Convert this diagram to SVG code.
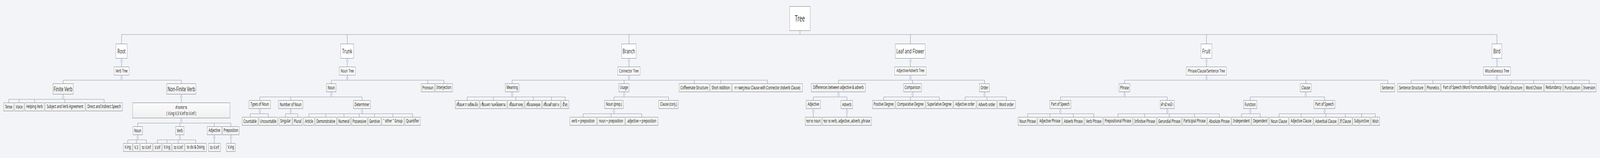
<svg xmlns="http://www.w3.org/2000/svg" width="7231" height="405" viewBox="0 0 7231 405" preserveAspectRatio="none" style="display:block;width:100vw;height:100vh">
<style>
rect{stroke:#808080;stroke-width:1}
.w{fill:#fff}.g{fill:url(#grad)}
text{font-family:"Noto Sans","Liberation Sans",sans-serif;fill:#1a1a1a;text-anchor:middle;font-size:12.3px}
.t1{font-size:22px;fill:#333}.t2{font-size:17px;fill:#333}
#connectors path{fill:none;stroke:#808080;stroke-width:1}
#toggles line{stroke:#6f93c4;stroke-width:1}
</style>
<defs>
<linearGradient id="grad" x1="0" y1="0" x2="0" y2="1"><stop offset="0" stop-color="#fbfbfb"/><stop offset="1" stop-color="#f0f0f0"/></linearGradient>
<g id="tg"><circle r="4.3" fill="#d3e2f6" stroke="#b3cbea" stroke-width="1"/><line x1="-2" x2="2" y1="0" y2="0"/></g>
</defs>
<rect x="0" y="0" width="7231" height="405" style="fill:#f2f4f8;stroke:none"/>
<g id="connectors">
<path d="M549.5 112.5V88.5H6765.5V112.5M1569.5 88.5V112.5M2842.5 88.5V112.5M4114.5 88.5V112.5M5452.5 88.5V112.5M3615.5 78.5V88.5"/>
<path d="M549.5 149.5V171.5M1569.5 149.5V171.5M2842.5 149.5V171.5M4114.5 149.5V171.5M5452.5 149.5V171.5M6765.5 149.5V171.5"/>
<path d="M549.5 192.5V205.5M285.5 214.5V205.5H819.5V214.5"/>
<path d="M285.5 241.5V254.5M39.5 263.5V254.5H470.5V263.5M86.5 254.5V263.5M156.5 254.5V263.5M293.5 254.5V263.5"/>
<path d="M819.5 241.5V263.5M819.5 302.5V315.5M622.5 324.5V315.5H1043.5V324.5M812.5 315.5V324.5M968.5 315.5V324.5"/>
<path d="M622.5 345.5V358.5M577.5 367.5V358.5H661.5V367.5M616.5 358.5V367.5"/>
<path d="M812.5 345.5V358.5M711.5 367.5V358.5H884.5V367.5M754.5 358.5V367.5M805.5 358.5V367.5"/>
<path d="M968.5 345.5V367.5M1043.5 345.5V367.5"/>
<path d="M1569.5 192.5V205.5M1497.5 214.5V205.5H2006.5V214.5M1933.5 205.5V214.5"/>
<path d="M1497.5 235.5V248.5M1174.5 257.5V248.5H1636.5V257.5M1313.5 248.5V257.5"/>
<path d="M1174.5 278.5V291.5M1130.5 300.5V291.5H1212.5V300.5"/>
<path d="M1313.5 278.5V291.5M1290.5 300.5V291.5H1345.5V300.5"/>
<path d="M1636.5 278.5V291.5M1396.5 300.5V291.5H1864.5V300.5M1472.5 291.5V300.5M1554.5 291.5V300.5M1623.5 291.5V300.5M1692.5 291.5V300.5M1775.5 291.5V300.5"/>
<path d="M2842.5 192.5V205.5M2314.5 214.5V205.5H3468.5V214.5M2820.5 205.5V214.5M3137.5 205.5V214.5M3257.5 205.5V214.5"/>
<path d="M2314.5 235.5V248.5M2111.5 257.5V248.5H2554.5V257.5M2229.5 248.5V257.5M2331.5 248.5V257.5M2410.5 248.5V257.5M2492.5 248.5V257.5"/>
<path d="M2820.5 235.5V248.5M2774.5 257.5V248.5H3021.5V257.5"/>
<path d="M2774.5 278.5V291.5M2635.5 300.5V291.5H2900.5V300.5M2761.5 291.5V300.5"/>
<path d="M4114.5 192.5V205.5M3789.5 214.5V205.5H4449.5V214.5M4124.5 205.5V214.5"/>
<path d="M3789.5 235.5V248.5M3675.5 257.5V248.5H3827.5V257.5"/>
<path d="M3675.5 278.5V300.5M3827.5 278.5V300.5"/>
<path d="M4124.5 235.5V248.5M3993.5 257.5V248.5H4245.5V257.5M4114.5 248.5V257.5"/>
<path d="M4449.5 235.5V248.5M4361.5 257.5V248.5H4548.5V257.5M4460.5 248.5V257.5"/>
<path d="M5452.5 192.5V205.5M5082.5 214.5V205.5H6271.5V214.5M5901.5 205.5V214.5"/>
<path d="M5082.5 235.5V248.5M4792.5 257.5V248.5H5275.5V257.5"/>
<path d="M4792.5 278.5V291.5M4644.5 300.5V291.5H4943.5V300.5M4744.5 291.5V300.5M4850.5 291.5V300.5"/>
<path d="M5275.5 278.5V291.5M5052.5 300.5V291.5H5510.5V300.5M5173.5 291.5V300.5M5284.5 291.5V300.5M5398.5 291.5V300.5"/>
<path d="M5901.5 235.5V248.5M5650.5 257.5V248.5H5986.5V257.5"/>
<path d="M5650.5 278.5V291.5M5610.5 300.5V291.5H5695.5V300.5"/>
<path d="M5986.5 278.5V291.5M5780.5 300.5V291.5H6215.5V300.5M5880.5 291.5V300.5M5992.5 291.5V300.5M6080.5 291.5V300.5M6153.5 291.5V300.5"/>
<path d="M6765.5 192.5V205.5M6377.5 214.5V205.5H7182.5V214.5M6475.5 205.5V214.5M6642.5 205.5V214.5M6829.5 205.5V214.5M6931.5 205.5V214.5M7021.5 205.5V214.5M7106.5 205.5V214.5"/>
</g>
<g id="nodes">
<g id="tree"><rect class="w" x="3568.5" y="16.5" width="93" height="62"/><text class="t1" x="3615" y="55">Tree</text></g>
<g id="root"><rect class="w" x="523.5" y="112.5" width="51" height="37"/><text class="t2" x="549" y="137">Root</text></g>
<g id="trunk"><rect class="w" x="1539.5" y="112.5" width="59" height="37"/><text class="t2" x="1569" y="137">Trunk</text></g>
<g id="branch"><rect class="w" x="2809.5" y="112.5" width="66" height="37"/><text class="t2" x="2842" y="137">Branch</text></g>
<g id="leaf"><rect class="w" x="4046.5" y="112.5" width="135" height="37"/><text class="t2" x="4114" y="137">Leaf and Flower</text></g>
<g id="fruit"><rect class="w" x="5427.5" y="112.5" width="49" height="37"/><text class="t2" x="5452" y="137">Fruit</text></g>
<g id="bird"><rect class="w" x="6742.5" y="112.5" width="45" height="37"/><text class="t2" x="6765" y="137">Bird</text></g>
<g id="verb-tree"><rect class="w" x="515.5" y="171.5" width="68" height="21"/><text x="549.5" y="186.5">Verb Tree</text></g>
<g id="noun-tree"><rect class="w" x="1533.5" y="171.5" width="72" height="21"/><text x="1569.5" y="186.5">Noun Tree</text></g>
<g id="connector-tree"><rect class="w" x="2791.5" y="171.5" width="101" height="21"/><text x="2842" y="186.5">Connector Tree</text></g>
<g id="adj-tree"><rect class="w" x="4043.5" y="171.5" width="142" height="21"/><text x="4114.5" y="185.5">Adjective/Adverb Tree</text></g>
<g id="phrase-tree"><rect class="w" x="5361.5" y="171.5" width="181" height="21"/><text x="5452" y="186">Phrase/Clause/Sentence Tree</text></g>
<g id="misc-tree"><rect class="w" x="6704.5" y="171.5" width="122" height="21"/><text x="6765.5" y="186.5">Miscellaneous Tree</text></g>
<g id="finite"><rect class="g" x="239.5" y="214.5" width="92" height="27"/><text class="t2" x="285" y="234">Finite Verb</text></g>
<g id="nonfinite"><rect class="g" x="753.5" y="214.5" width="132" height="27"/><text class="t2" x="819.5" y="234">Non-Finite Verb</text></g>
<g id="n1"><rect class="g" x="16.5" y="263.5" width="45" height="21"/><text x="39" y="278.5">Tense</text></g>
<g id="n2"><rect class="g" x="65.5" y="263.5" width="43" height="21"/><text x="87" y="278.5">Voice</text></g>
<g id="n3"><rect class="g" x="112.5" y="263.5" width="87" height="21"/><text x="156" y="277.5">Helping Verb</text></g>
<g id="n4"><rect class="g" x="203.5" y="263.5" width="181" height="21"/><text x="294" y="277.5">Subject and Verb Agreement</text></g>
<g id="n5"><rect class="g" x="388.5" y="263.5" width="165" height="21"/><text x="471" y="277.5">Direct and Indirect Speech</text></g>
<g id="n6"><rect class="g" x="599.5" y="263.5" width="440" height="39"/><text x="819.5" y="279.5">ส่วนขยาย</text><text x="819.5" y="295.5">( V.ing V.3 V.inf to V.inf )</text></g>
<g id="n7"><rect class="g" x="601.5" y="324.5" width="43" height="21"/><text x="622.5" y="339.5">Noun</text></g>
<g id="n8"><rect class="g" x="793.5" y="324.5" width="38" height="21"/><text x="812.5" y="339.5">Verb</text></g>
<g id="n9"><rect class="g" x="936.5" y="324.5" width="65" height="21"/><text x="969" y="338.5">Adjective</text></g>
<g id="n10"><rect class="g" x="1005.5" y="324.5" width="76" height="21"/><text x="1043.5" y="338.5">Preposition</text></g>
<g id="n11"><rect class="g" x="557.5" y="367.5" width="40" height="21"/><text x="577.5" y="381.5">V.ing</text></g>
<g id="n12"><rect class="g" x="601.5" y="367.5" width="29" height="21"/><text x="616" y="382.5">V.3</text></g>
<g id="n13"><rect class="g" x="634.5" y="367.5" width="54" height="21"/><text x="661.5" y="382.5">to V.inf</text></g>
<g id="n14"><rect class="g" x="692.5" y="367.5" width="38" height="21"/><text x="711.5" y="382.5">V.inf</text></g>
<g id="n15"><rect class="g" x="734.5" y="367.5" width="40" height="21"/><text x="754.5" y="381.5">V.ing</text></g>
<g id="n16"><rect class="g" x="778.5" y="367.5" width="54" height="21"/><text x="805.5" y="382.5">to V.inf</text></g>
<g id="n17"><rect class="g" x="836.5" y="367.5" width="96" height="21"/><text x="884.5" y="381.5">to do &amp; Doing</text></g>
<g id="n18"><rect class="g" x="942.5" y="367.5" width="54" height="21"/><text x="969.5" y="382.5">to V.inf</text></g>
<g id="n19"><rect class="g" x="1023.5" y="367.5" width="40" height="21"/><text x="1043.5" y="381.5">V.ing</text></g>
<g id="n20"><rect class="g" x="1475.5" y="214.5" width="43" height="21"/><text x="1497" y="229.5">Noun</text></g>
<g id="n21"><rect class="g" x="1903.5" y="214.5" width="60" height="21"/><text x="1933.5" y="229.5">Pronoun</text></g>
<g id="n22"><rect class="g" x="1967.5" y="214.5" width="77" height="21"/><text x="2006" y="228.5">Interjection</text></g>
<g id="n23"><rect class="g" x="1125.5" y="257.5" width="97" height="21"/><text x="1174" y="271.5">Types of Noun</text></g>
<g id="n24"><rect class="g" x="1258.5" y="257.5" width="110" height="21"/><text x="1313.5" y="272.5">Number of Noun</text></g>
<g id="n25"><rect class="g" x="1597.5" y="257.5" width="77" height="21"/><text x="1636" y="272.5">Determiner</text></g>
<g id="n26"><rect class="g" x="1094.5" y="300.5" width="71" height="21"/><text x="1130" y="315.5">Countable</text></g>
<g id="n27"><rect class="g" x="1169.5" y="300.5" width="85" height="21"/><text x="1212" y="315.5">Uncountable</text></g>
<g id="n28"><rect class="g" x="1260.5" y="300.5" width="59" height="21"/><text x="1290" y="314.5">Singular</text></g>
<g id="n29"><rect class="g" x="1323.5" y="300.5" width="43" height="21"/><text x="1345" y="315.5">Plural</text></g>
<g id="n30"><rect class="g" x="1372.5" y="300.5" width="48" height="21"/><text x="1396.5" y="315.5">Article</text></g>
<g id="n31"><rect class="g" x="1424.5" y="300.5" width="96" height="21"/><text x="1472.5" y="315.5">Demonstrative</text></g>
<g id="n32"><rect class="g" x="1524.5" y="300.5" width="60" height="21"/><text x="1554.5" y="315.5">Numeral</text></g>
<g id="n33"><rect class="g" x="1588.5" y="300.5" width="71" height="21"/><text x="1624" y="315.5">Possessive</text></g>
<g id="n34"><rect class="g" x="1663.5" y="300.5" width="58" height="21"/><text x="1692.5" y="315.5">Genitive</text></g>
<g id="n35"><rect class="g" x="1725.5" y="300.5" width="100" height="21"/><text x="1775.5" y="314.5">" other " Group</text></g>
<g id="n36"><rect class="g" x="1829.5" y="300.5" width="70" height="21"/><text x="1864.5" y="314.5">Quantifier</text></g>
<g id="n37"><rect class="g" x="2283.5" y="214.5" width="62" height="21"/><text x="2314.5" y="228.5">Meaning</text></g>
<g id="n38"><rect class="g" x="2796.5" y="214.5" width="47" height="21"/><text x="2820" y="228.5">Usage</text></g>
<g id="n39"><rect class="g" x="3069.5" y="214.5" width="136" height="21"/><text x="3137.5" y="229.5">Coffeemate Structure</text></g>
<g id="n40"><rect class="g" x="3209.5" y="214.5" width="96" height="21"/><text x="3257.5" y="229.5">Short Addition</text></g>
<g id="n41"><rect class="g" x="3309.5" y="214.5" width="317" height="21"/><text x="3468" y="229.5">การลดรูปของ Clause with Connector (Adverb Clause)</text></g>
<g id="n42"><rect class="g" x="2057.5" y="257.5" width="107" height="21"/><text x="2111" y="272.5">เชื่อมความขัดแย้ง</text></g>
<g id="n43"><rect class="g" x="2168.5" y="257.5" width="122" height="21"/><text x="2229.5" y="272.5">เชื่อมความคล้อยตาม</text></g>
<g id="n44"><rect class="g" x="2294.5" y="257.5" width="74" height="21"/><text x="2331.5" y="272.5">เชื่อมสาเหตุ</text></g>
<g id="n45"><rect class="g" x="2372.5" y="257.5" width="75" height="21"/><text x="2410" y="272.5">เชื่อมเหตุผล</text></g>
<g id="n46"><rect class="g" x="2451.5" y="257.5" width="81.5" height="21"/><text x="2492" y="272.5">เชื่อมตัวอย่าง</text></g>
<g id="n47"><rect class="g" x="2536.5" y="257.5" width="35" height="21"/><text x="2554" y="272.5">อื่นๆ</text></g>
<g id="n48"><rect class="g" x="2732.5" y="257.5" width="84" height="21"/><text x="2774.5" y="271.5">Noun (prep.)</text></g>
<g id="n49"><rect class="g" x="2977.5" y="257.5" width="88" height="21"/><text x="3021.5" y="271.5">Clause (conj.)</text></g>
<g id="n50"><rect class="g" x="2575.5" y="300.5" width="120.5" height="21"/><text x="2635.5" y="314.5">verb + preposition</text></g>
<g id="n51"><rect class="g" x="2699.5" y="300.5" width="124" height="21"/><text x="2761.5" y="314.5">noun + preposition</text></g>
<g id="n52"><rect class="g" x="2827.5" y="300.5" width="146" height="21"/><text x="2900.5" y="314.5">adjective + preposition</text></g>
<g id="n53"><rect class="g" x="3666.5" y="214.5" width="245" height="21"/><text x="3789" y="228.5">Differences between adjective &amp; adverb</text></g>
<g id="n54"><rect class="g" x="4083.5" y="214.5" width="81" height="21"/><text x="4124" y="228.5">Comparison</text></g>
<g id="n55"><rect class="g" x="4426.5" y="214.5" width="45" height="21"/><text x="4449" y="229.5">Order</text></g>
<g id="n56"><rect class="g" x="3643.5" y="257.5" width="65" height="21"/><text x="3676" y="271.5">Adjective</text></g>
<g id="n57"><rect class="g" x="3800.5" y="257.5" width="53" height="21"/><text x="3827" y="272.5">Adverb</text></g>
<g id="n58"><rect class="g" x="3639.5" y="300.5" width="73" height="21"/><text x="3676" y="314.5">ขยาย noun</text></g>
<g id="n59"><rect class="g" x="3716.5" y="300.5" width="222" height="21"/><text x="3827.5" y="314.5">ขยาย verb, adjective ,adverb ,phrase</text></g>
<g id="n60"><rect class="g" x="3942.5" y="257.5" width="102" height="21"/><text x="3993.5" y="271.5">Positive Degree</text></g>
<g id="n61"><rect class="g" x="4048.5" y="257.5" width="132" height="21"/><text x="4114.5" y="271.5">Comparative Degree</text></g>
<g id="n62"><rect class="g" x="4184.5" y="257.5" width="122" height="21"/><text x="4245.5" y="271.5">Superlative Degree</text></g>
<g id="n63"><rect class="g" x="4310.5" y="257.5" width="101" height="21"/><text x="4361" y="271.5">Adjective order</text></g>
<g id="n64"><rect class="g" x="4415.5" y="257.5" width="88.5" height="21"/><text x="4460" y="272.5">Adverb order</text></g>
<g id="n65"><rect class="g" x="4508.5" y="257.5" width="80" height="21"/><text x="4548.5" y="272.5">Word order</text></g>
<g id="n66"><rect class="g" x="5057.5" y="214.5" width="49" height="21"/><text x="5082" y="229.5">Phrase</text></g>
<g id="n67"><rect class="g" x="4744.5" y="257.5" width="95" height="21"/><text x="4792" y="271.5">Part of Speech</text></g>
<g id="n68"><rect class="g" x="5243.5" y="257.5" width="64" height="21"/><text x="5275.5" y="272.5">คำนำหน้า</text></g>
<g id="n69"><rect class="g" x="4601.5" y="300.5" width="85" height="21"/><text x="4644" y="315.5">Noun Phrase</text></g>
<g id="n70"><rect class="g" x="4690.5" y="300.5" width="108" height="21"/><text x="4744.5" y="314.5">Adjective Phrase</text></g>
<g id="n71"><rect class="g" x="4802.5" y="300.5" width="96" height="21"/><text x="4850.5" y="315.5">Adverb Phrase</text></g>
<g id="n72"><rect class="g" x="4902.5" y="300.5" width="81" height="21"/><text x="4943" y="315.5">Verb Phrase</text></g>
<g id="n73"><rect class="g" x="4987.5" y="300.5" width="130" height="21"/><text x="5052.5" y="314.5">Prepositional Phrase</text></g>
<g id="n74"><rect class="g" x="5121.5" y="300.5" width="104" height="21"/><text x="5173.5" y="315.5">Infinitive Phrase</text></g>
<g id="n75"><rect class="g" x="5229.5" y="300.5" width="110" height="21"/><text x="5284.5" y="315.5">Gerundial Phrase</text></g>
<g id="n76"><rect class="g" x="5343.5" y="300.5" width="110" height="21"/><text x="5398.5" y="314.5">Participial Phrase</text></g>
<g id="n77"><rect class="g" x="5457.5" y="300.5" width="106" height="21"/><text x="5510.5" y="315.5">Absolute Phrase</text></g>
<g id="n78"><rect class="g" x="5876.5" y="214.5" width="49" height="21"/><text x="5901" y="229.5">Clause</text></g>
<g id="n79"><rect class="g" x="6239.5" y="214.5" width="64" height="21"/><text x="6271.5" y="229.5">Sentence</text></g>
<g id="n80"><rect class="g" x="5619.5" y="257.5" width="61" height="21"/><text x="5650" y="272.5">Function</text></g>
<g id="n81"><rect class="g" x="5938.5" y="257.5" width="95" height="21"/><text x="5986" y="271.5">Part of Speech</text></g>
<g id="n82"><rect class="g" x="5567.5" y="300.5" width="86" height="21"/><text x="5610.5" y="314.5">Independent</text></g>
<g id="n83"><rect class="g" x="5657.5" y="300.5" width="76" height="21"/><text x="5695.5" y="314.5">Dependent</text></g>
<g id="n84"><rect class="g" x="5737.5" y="300.5" width="85" height="21"/><text x="5780" y="315.5">Noun Clause</text></g>
<g id="n85"><rect class="g" x="5826.5" y="300.5" width="107" height="21"/><text x="5880" y="314.5">Adjective Clause</text></g>
<g id="n86"><rect class="g" x="5937.5" y="300.5" width="109" height="21"/><text x="5992" y="315.5">Adverbial Clause</text></g>
<g id="n87"><rect class="g" x="6050.5" y="300.5" width="60" height="21"/><text x="6080.5" y="315.5">If Clause</text></g>
<g id="n88"><rect class="g" x="6114.5" y="300.5" width="78" height="21"/><text x="6153.5" y="314.5">Subjunctive</text></g>
<g id="n89"><rect class="g" x="6196.5" y="300.5" width="38.5" height="21"/><text x="6216" y="315.5">Wish</text></g>
<g id="n90"><rect class="g" x="6316.5" y="214.5" width="122" height="21"/><text x="6377.5" y="229.5">Sentence Structure</text></g>
<g id="n91"><rect class="g" x="6442.5" y="214.5" width="67" height="21"/><text x="6476" y="229.5">Phonetics</text></g>
<g id="n92"><rect class="g" x="6513.5" y="214.5" width="257" height="21"/><text x="6642" y="228.5">Part of Speech (Word Formation/Building)</text></g>
<g id="n93"><rect class="g" x="6774.5" y="214.5" width="110" height="21"/><text x="6829.5" y="229.5">Parallel Structure</text></g>
<g id="n94"><rect class="g" x="6888.5" y="214.5" width="87" height="21"/><text x="6932" y="229.5">Word Choice</text></g>
<g id="n95"><rect class="g" x="6979.5" y="214.5" width="83" height="21"/><text x="7021" y="228.5">Redundancy</text></g>
<g id="n96"><rect class="g" x="7066.5" y="214.5" width="80" height="21"/><text x="7106.5" y="229.5">Punctuation</text></g>
<g id="n97"><rect class="g" x="7150.5" y="214.5" width="64" height="21"/><text x="7182.5" y="229.5">Inversion</text></g>
</g>
<g id="toggles">
<use href="#tg" x="549.5" y="156.5"/><use href="#tg" x="1569.5" y="156.5"/><use href="#tg" x="2842.5" y="156.5"/><use href="#tg" x="4114.5" y="156.5"/><use href="#tg" x="5452.5" y="156.5"/><use href="#tg" x="6765.5" y="156.5"/>
<use href="#tg" x="549.5" y="199.5"/><use href="#tg" x="1569.5" y="199.5"/><use href="#tg" x="2842.5" y="199.5"/><use href="#tg" x="4114.5" y="199.5"/><use href="#tg" x="5452.5" y="199.5"/><use href="#tg" x="6765.5" y="199.5"/>
<use href="#tg" x="285.5" y="248.5"/><use href="#tg" x="819.5" y="248.5"/><use href="#tg" x="819.5" y="309.5"/>
<use href="#tg" x="622.5" y="352.5"/><use href="#tg" x="812.5" y="352.5"/><use href="#tg" x="968.5" y="352.5"/><use href="#tg" x="1043.5" y="352.5"/>
<use href="#tg" x="1497.5" y="242.5"/><use href="#tg" x="2314.5" y="242.5"/><use href="#tg" x="2820.5" y="242.5"/><use href="#tg" x="3789.5" y="242.5"/><use href="#tg" x="4124.5" y="242.5"/><use href="#tg" x="4449.5" y="242.5"/><use href="#tg" x="5082.5" y="242.5"/><use href="#tg" x="5901.5" y="242.5"/>
<use href="#tg" x="1174.5" y="285.5"/><use href="#tg" x="1313.5" y="285.5"/><use href="#tg" x="1636.5" y="285.5"/><use href="#tg" x="2774.5" y="285.5"/><use href="#tg" x="3675.5" y="285.5"/><use href="#tg" x="3827.5" y="285.5"/><use href="#tg" x="4792.5" y="285.5"/><use href="#tg" x="5275.5" y="285.5"/><use href="#tg" x="5650.5" y="285.5"/><use href="#tg" x="5986.5" y="285.5"/>
</g>
</svg>
